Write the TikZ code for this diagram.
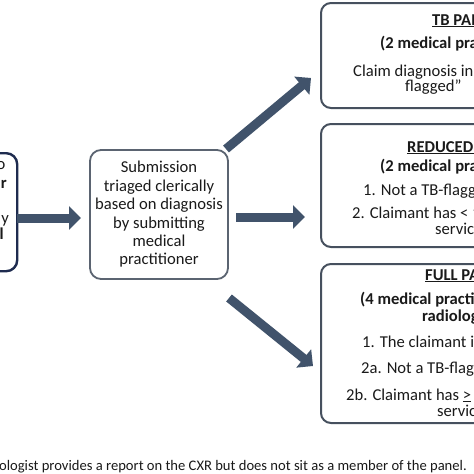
\documentclass[tikz,border=0pt]{standalone}
\usepackage{fontspec}
\setmainfont{Carlito}
\usetikzlibrary{arrows.meta}
\definecolor{arrowcol}{HTML}{41536B}
\definecolor{rboxcol}{HTML}{46505E}
\definecolor{mboxcol}{HTML}{5B6471}
\definecolor{lboxcol}{HTML}{1E2B4F}
\definecolor{txtcol}{HTML}{1A1A1A}
\tikzset{
  boxfont/.style={font=\fontsize{16.6}{18.4}\selectfont, text=txtcol},
  rbox/.style={draw=rboxcol, line width=2pt, rounded corners=10pt, anchor=north west, inner sep=0pt},
  midbox/.style={draw=mboxcol, line width=1.8pt, rounded corners=11pt, align=center, inner sep=0pt,
    minimum width=138pt, minimum height=129pt, boxfont},
  leftbox/.style={draw=lboxcol, line width=2.4pt, rounded corners=11pt, anchor=north west, inner sep=0pt},
  ln/.style={anchor=base west, inner sep=0pt, boxfont},
  lnr/.style={anchor=base east, inner sep=0pt, boxfont},
  blockarrow/.style={draw=arrowcol, line width=9pt, -{Triangle[length=12pt,width=23pt]}, arrowcol},
}
\begin{document}
\begin{tikzpicture}[x=1pt,y=-1pt]
\useasboundingbox (0,0) rectangle (474,474);
\clip (0,0) rectangle (474,474);
\fill[white] (0,0) rectangle (474,474);

% left box (mostly outside the picture)
\node[leftbox, minimum width=100pt, minimum height=118pt] (left) at (-84,152) {};
\node[lnr] (l1) at (5.5,169) {o};
\node[lnr] (l2) at (7,188) {\textbf{r}};
\node[lnr] (l3) at (9,223) {y};
\node[lnr] (l4) at (4,239) {\textbf{l}};

% middle box
\node[midbox] (mid) at (159,214.5) {Submission\\triaged clerically\\based on diagnosis\\by submitting\\medical\\practitioner};

% right boxes
\node[rbox, minimum width=300pt, minimum height=105pt] (tb) at (320,2) {};
\node[ln] (tb1) at (432,25) {\textbf{\underline{TB PANEL}}};
\node[ln] (tb2) at (380,48) {\textbf{(2 medical practitioners)}};
\node[ln] (tb3) at (353,76) {Claim diagnosis in “TB-};
\node[ln] (tb4) at (405,91) {flagged”};

\node[rbox, minimum width=300pt, minimum height=123pt] (red) at (320,123) {};
\node[ln] (r1) at (407,152) {\textbf{\underline{REDUCED PANEL}}};
\node[ln] (r2) at (380,171.5) {\textbf{(2 medical practitioners)}};
\node[ln] (r3) at (363,195) {1. Not a TB-flagged claim};
\node[ln] (r4) at (352,218) {2. Claimant has < 10 years of};
\node[ln] (r5) at (435,234) {service};

\node[rbox, minimum width=300pt, minimum height=159pt] (full) at (320,263) {};
\node[ln] (f1) at (425,280) {\textbf{\underline{FULL PANEL}}};
\node[ln] (f2) at (360,304.5) {\textbf{(4 medical practitioners +}};
\node[ln] (f3) at (422,321) {\textbf{radiologist*)}};
\node[ln] (f4) at (362,347) {1. The claimant is};
\node[ln] (f5) at (361,373) {2a. Not a TB-flagged claim};
\node[ln] (f6) at (346,400) {2b. Claimant has \underline{>} 10 years of};
\node[ln] (f7) at (437,416) {service};

% footnote
\node[anchor=base east, inner sep=0pt, font=\fontsize{14.6}{16}\selectfont, text=txtcol] (foot) at (467,470)
  {*Radiologist provides a report on the CXR but does not sit as a member of the panel.};

% arrows
\coordinate (a0s) at (17,218);
\coordinate (a0e) at (81,218);
\coordinate (a1s) at (226,149);
\coordinate (a1e) at (311,78);
\coordinate (a2s) at (236,217);
\coordinate (a2e) at (305,217);
\coordinate (a3s) at (229,298);
\coordinate (a3e) at (313,366);
\draw[blockarrow] (a0s) -- (a0e);
\draw[blockarrow] (a1s) -- (a1e);
\draw[blockarrow] (a2s) -- (a2e);
\draw[blockarrow] (a3s) -- (a3e);
\end{tikzpicture}
\end{document}
